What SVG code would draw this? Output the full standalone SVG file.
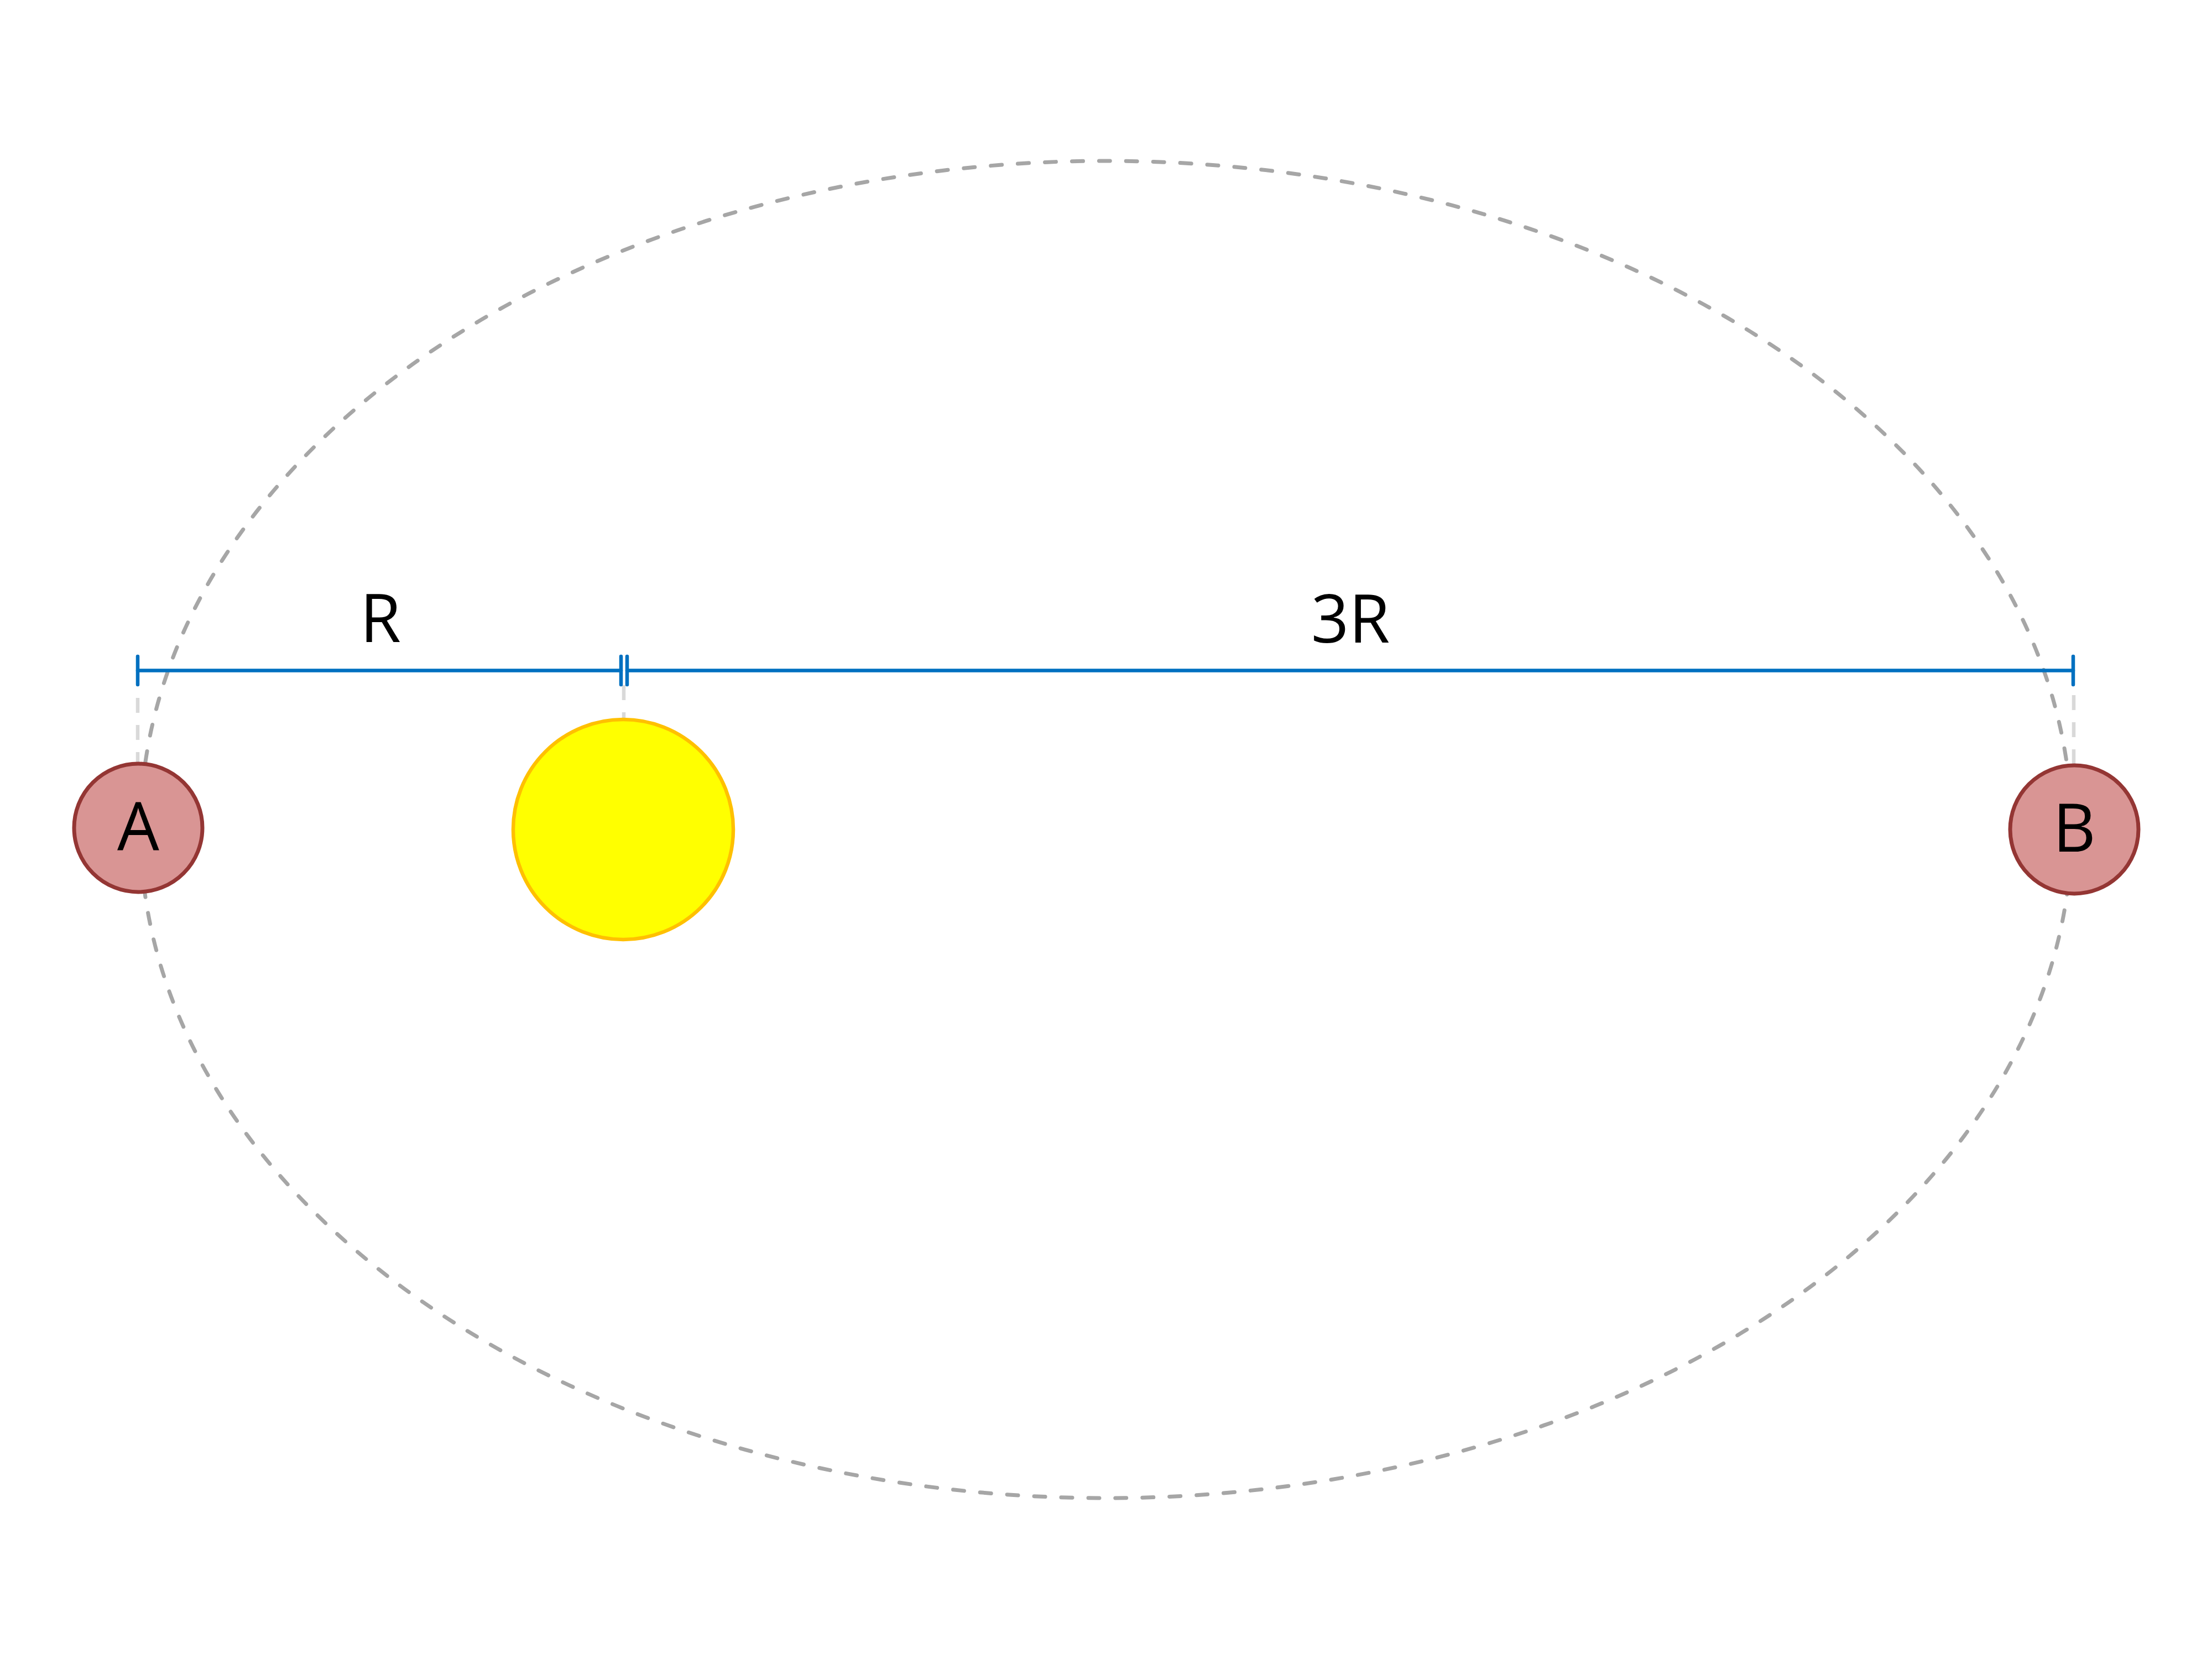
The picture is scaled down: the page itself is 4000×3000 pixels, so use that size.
<svg xmlns="http://www.w3.org/2000/svg" width="4000" height="3000" viewBox="0 0 4000 3000">
  <style>
    .orbit { fill: none; stroke: #A6A6A6; stroke-width: 7; stroke-dasharray: 20 29; stroke-linecap: round; }
    .guide { stroke: #D9D9D9; stroke-width: 6.5; stroke-dasharray: 27 22; fill: none; }
    .dim { stroke: #0070C0; stroke-width: 6.5; stroke-linecap: round; fill: none; }
    .planet { fill: #D99594; stroke: #943634; stroke-width: 7; }
    .sun { fill: #FFFF00; stroke: #FFC000; stroke-width: 6.5; }
    .lbl { font-family: "Open Sans", "Noto Sans", "Liberation Sans", sans-serif; font-size: 120px; fill: #000000; text-anchor: middle; }
  </style>
  <rect x="0" y="0" width="4000" height="3000" fill="#FFFFFF"/>
  <g id="orbit">
    <ellipse class="orbit" cx="2000" cy="1500" rx="1746" ry="1209"/>
  </g>
  <g id="connectors">
    <line class="guide" x1="249" y1="1262" x2="249" y2="1378"/>
    <line class="guide" x1="1128" y1="1239" x2="1128" y2="1299"/>
    <line class="guide" x1="3750" y1="1257" x2="3750" y2="1381"/>
    <line class="dim" x1="249" y1="1212.5" x2="1123" y2="1212.5"/>
    <line class="dim" x1="249" y1="1187" x2="249" y2="1238"/>
    <line class="dim" x1="1123" y1="1187" x2="1123" y2="1238"/>
    <line class="dim" x1="1134" y1="1212.5" x2="3749" y2="1212.5"/>
    <line class="dim" x1="1134" y1="1187" x2="1134" y2="1238"/>
    <line class="dim" x1="3749" y1="1187" x2="3749" y2="1238"/>
  </g>
  <g id="label-R">
    <text class="lbl" x="688" y="1161">R</text>
  </g>
  <g id="label-3R">
    <text class="lbl" x="2442" y="1162">3R</text>
  </g>
  <g id="sun">
    <circle class="sun" cx="1127" cy="1500" r="199"/>
  </g>
  <g id="planet-A">
    <circle class="planet" cx="250" cy="1497" r="116"/>
    <text class="lbl" x="250" y="1537">A</text>
  </g>
  <g id="planet-B">
    <circle class="planet" cx="3751" cy="1500" r="116"/>
    <text class="lbl" x="3751" y="1540">B</text>
  </g>
</svg>
